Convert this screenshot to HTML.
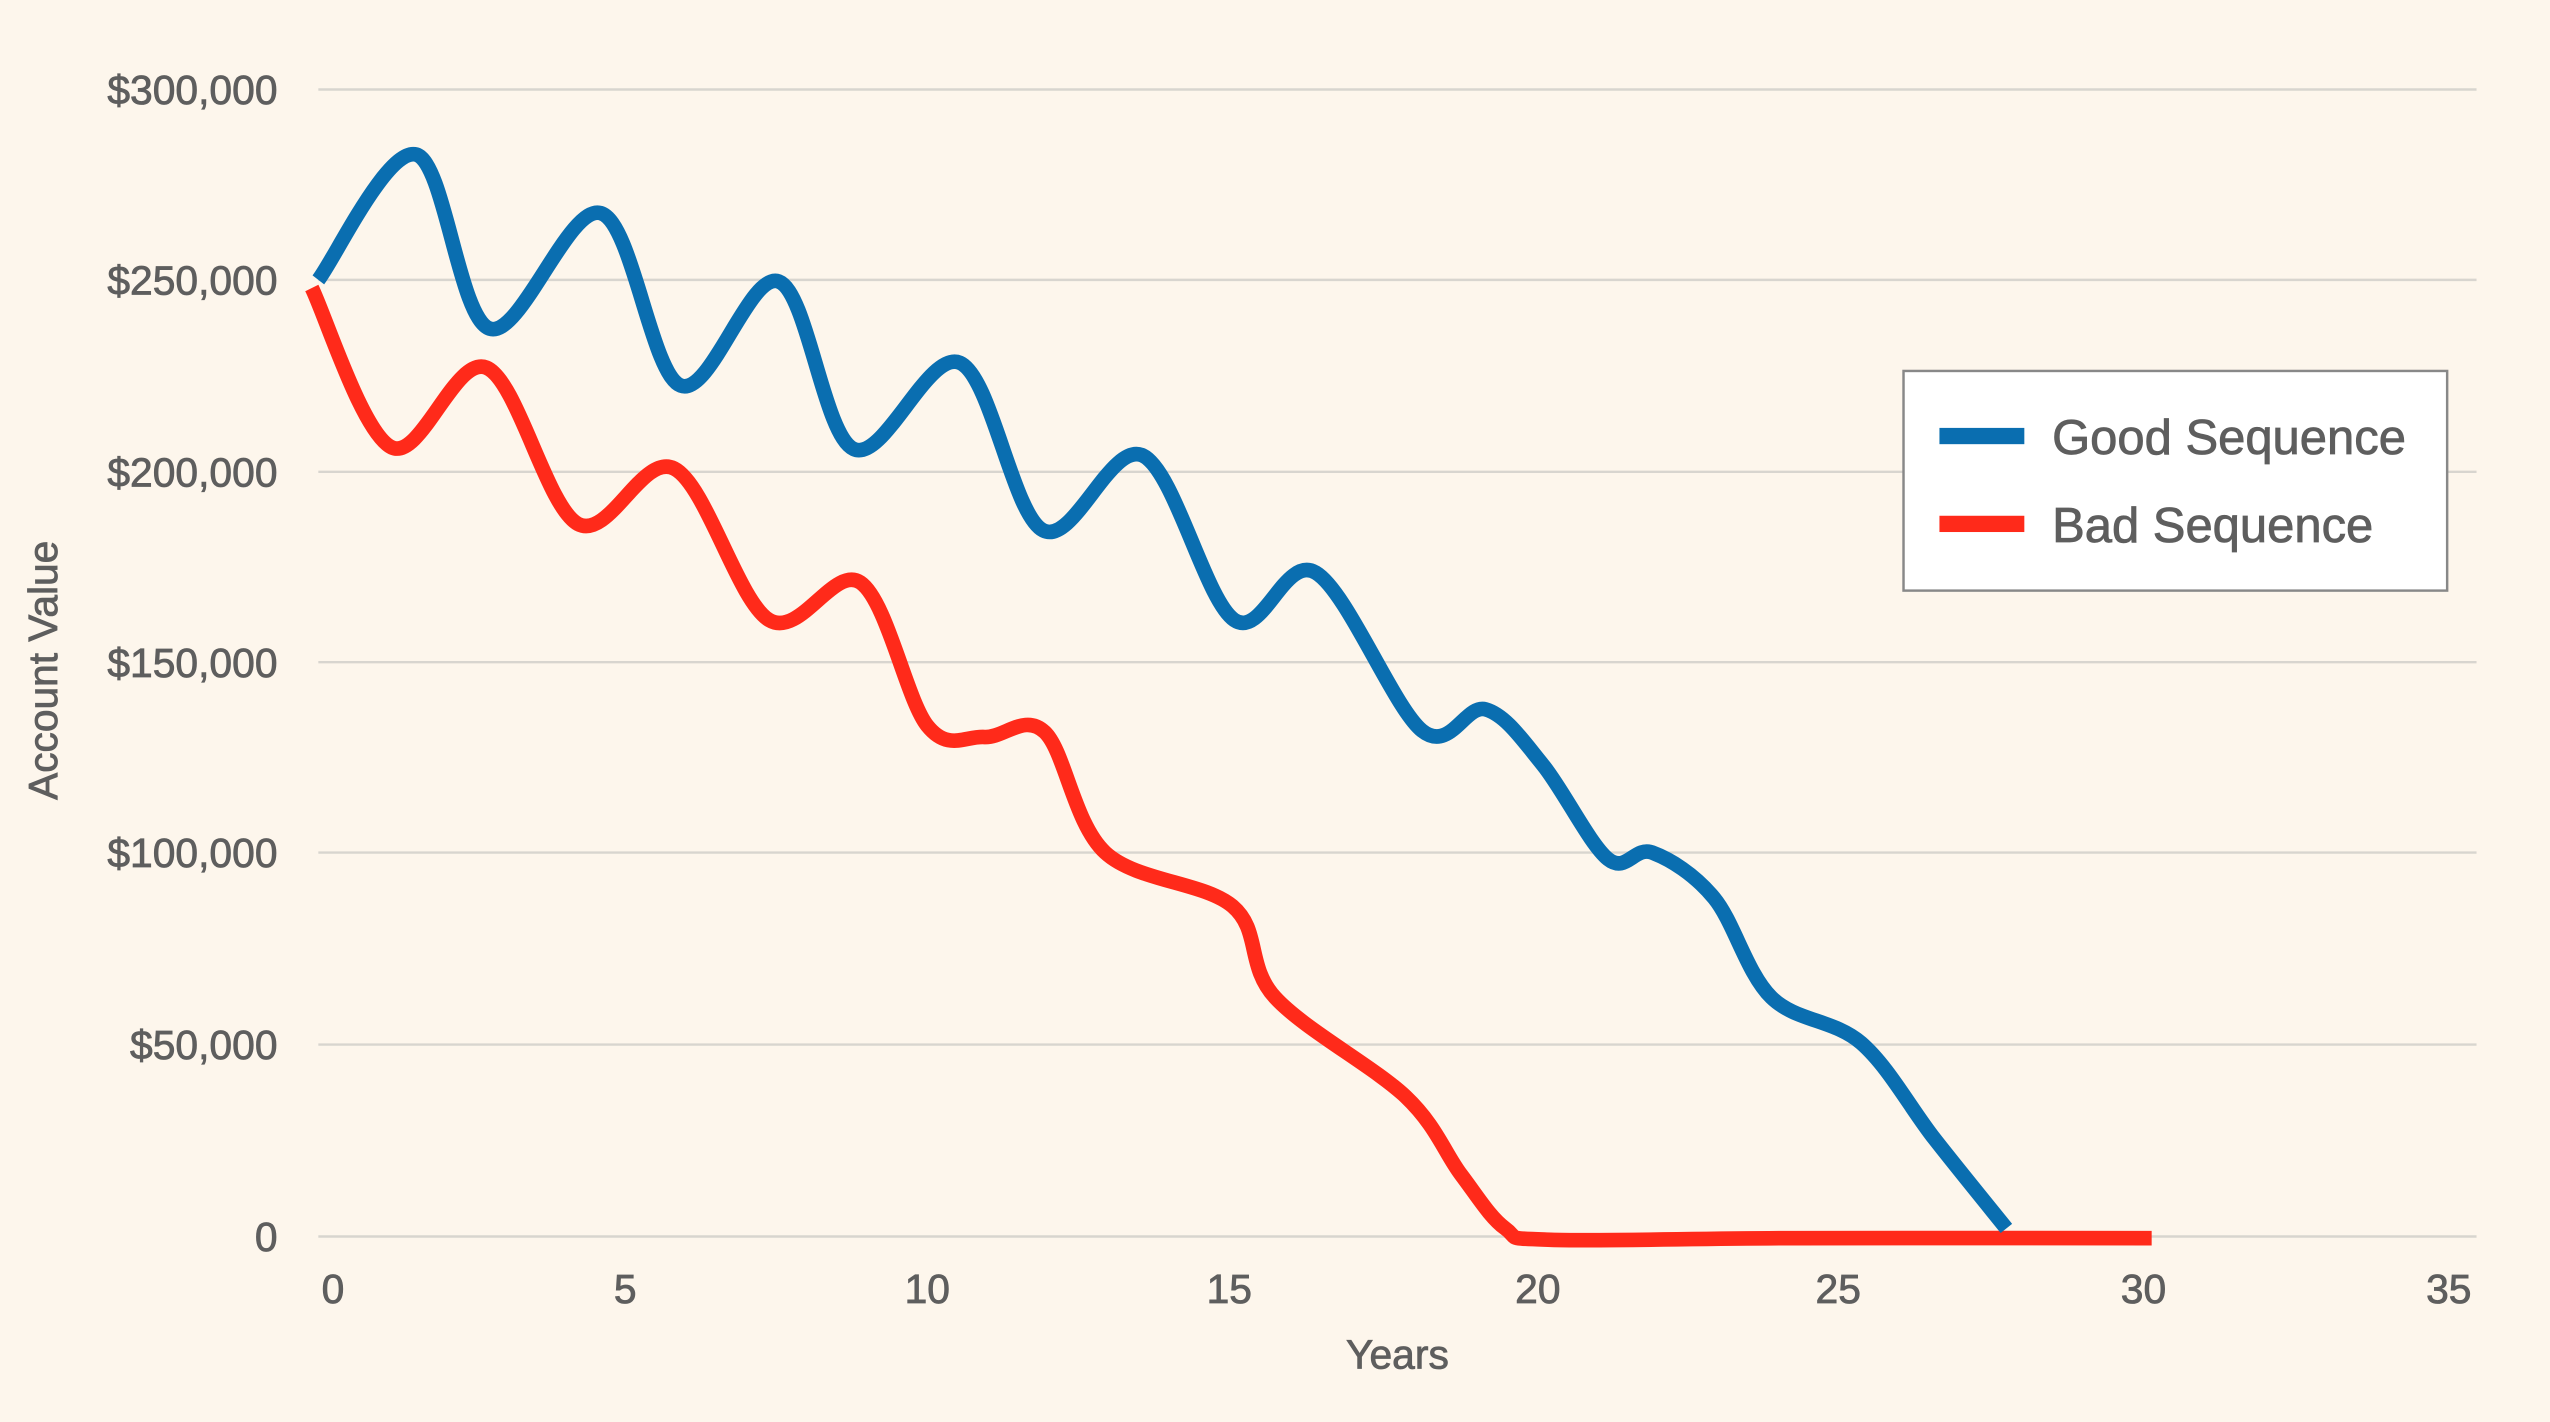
<!DOCTYPE html>
<html><head><meta charset="utf-8"><style>
html,body{margin:0;padding:0;background:#fdf6ec;}
svg{display:block;}
text{font-family:"Liberation Sans",sans-serif;fill:#5e5e5e;stroke:#5e5e5e;stroke-width:0.5;}
</style></head><body>
<svg id="s" width="2550" height="1422" viewBox="0 0 1562 874" preserveAspectRatio="none" xmlns="http://www.w3.org/2000/svg">
<rect width="1562" height="874" fill="#fdf6ec"/>
<g stroke="#d8d5cf" stroke-width="1.5">
<line x1="195" x2="1517" y1="55" y2="55"/>
<line x1="195" x2="1517" y1="172" y2="172"/>
<line x1="195" x2="1517" y1="290" y2="290"/>
<line x1="195" x2="1517" y1="407" y2="407"/>
<line x1="195" x2="1517" y1="524" y2="524"/>
<line x1="195" x2="1517" y1="642" y2="642"/>
<line x1="195" x2="1517" y1="760" y2="760"/>
</g>
<g font-size="25" text-anchor="end">
<text x="170" y="64">$300,000</text>
<text x="170" y="181">$250,000</text>
<text x="170" y="299">$200,000</text>
<text x="170" y="416">$150,000</text>
<text x="170" y="533">$100,000</text>
<text x="170" y="651">$50,000</text>
<text x="170" y="769">0</text>
</g>
<g font-size="25" text-anchor="middle">
<text x="204" y="801">0</text>
<text x="383" y="801">5</text>
<text x="568" y="801">10</text>
<text x="753" y="801">15</text>
<text x="942" y="801">20</text>
<text x="1126" y="801">25</text>
<text x="1313" y="801">30</text>
<text x="1500" y="801">35</text>
<text x="856" y="841">Years</text>
<text transform="translate(35,412) rotate(-90)">Account Value</text>
</g>
<path id="red" fill="none" stroke="#ff2a1a" stroke-width="9" stroke-linejoin="round"/>
<path id="blue" fill="none" stroke="#0a6eb0" stroke-width="9" stroke-linejoin="round"/>
<rect x="1166" y="228" width="333" height="135" fill="#fff" stroke="#888" stroke-width="1.5"/>
<rect x="1188" y="263" width="52" height="10" fill="#0a6eb0"/>
<rect x="1188" y="317" width="52" height="10" fill="#ff2a1a"/>
<text x="1257" y="279" font-size="30">Good Sequence</text>
<text x="1257" y="333" font-size="30">Bad Sequence</text>
</svg>
<script>
function cr(p){var d="M"+p[0][0]+","+p[0][1];for(var i=0;i<p.length-1;i++){var p0=p[i-1]||p[i],p1=p[i],p2=p[i+1],p3=p[i+2]||p2;
var c1=[p1[0]+(p2[0]-p0[0])/6,p1[1]+(p2[1]-p0[1])/6],c2=[p2[0]-(p3[0]-p1[0])/6,p2[1]-(p3[1]-p1[1])/6];
d+=" C"+c1[0]+","+c1[1]+" "+c2[0]+","+c2[1]+" "+p2[0]+","+p2[1];}return d;}
var blue=[[195,172],[255,95],[300,202],[368,131],[417,237],[477,173],[523,276],[588,223],[639,326],[700,280],[756,381],[806,352],[871,449],[910,436],[945,470],[985,528],[1012,524],[1050,552],[1085,613],[1140,641],[1185,700],[1229,755]];
var red=[[191,177],[240,275],[298,226],[354,322],[413,288],[471,381],[527,358],[568,446],[603,453],[640,450],[677,524],[755,557],[781,613],[861,674],[895,722],[922,755],[950,762],[1100,761],[1318,761]];
document.getElementById("blue").setAttribute("d",cr(blue));
document.getElementById("red").setAttribute("d",cr(red));
</script>
</body></html>
